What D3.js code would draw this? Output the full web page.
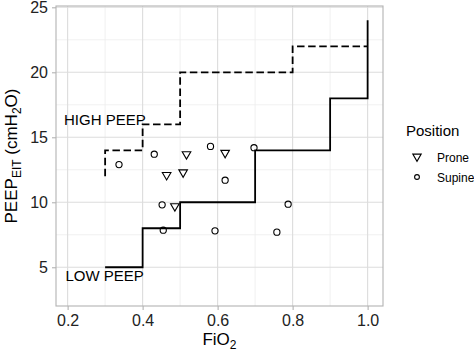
<!doctype html>
<html lang="en">
<head>
    <meta charset="utf-8">
    <title>PEEP vs FiO2</title>
    <style type="text/css">
        html, body {
            margin: 0;
            padding: 0;
            background-color: #fff;
            overflow: hidden;
        }
        svg text {
            font-family: "Liberation Sans", Arial, sans-serif;
        }
    </style>
</head>
<body>
    <svg id="chart" width="474" height="350"></svg>

    <script src="https://cdn.jsdelivr.net/npm/d3@7"></script>
    <script>
        // step tables (FiO2 -> PEEP)
        const highFio2 = [0.3, 0.3, 0.4, 0.5, 0.8, 1.0];
        const highPeep = [12, 14, 16, 20, 22, 22];
        const lowFio2 = [0.3, 0.4, 0.5, 0.7, 0.9, 1.0];
        const lowPeep = [5, 8, 10, 14, 18, 24];

        // patients
        const proneFio2 = [0.464, 0.508, 0.517, 0.620, 0.486];
        const pronePeep = [12.1, 12.3, 13.7, 13.8, 9.7];
        const supineFio2 = [0.337, 0.431, 0.581, 0.697, 0.620, 0.452, 0.455, 0.593, 0.758, 0.788];
        const supinePeep = [12.9, 13.7, 14.3, 14.2, 11.7, 9.8, 7.85, 7.8, 7.7, 9.85];

        const xTicks = [0.2, 0.4, 0.6, 0.8, 1.0];
        const xMinor = [0.3, 0.5, 0.7, 0.9];
        const yTicks = [5, 10, 15, 20, 25];
        const yMinor = [7.5, 12.5, 17.5, 22.5];

        const svg = d3.select("#chart");
        const pLeft = 56, pRight = 383, pTop = 6, pBottom = 306;

        const x = d3.scaleLinear().domain([0.169, 1.041]).range([pLeft, pRight]);
        const y = d3.scaleLinear().domain([2.02, 25.1]).range([pBottom, pTop]);

        // grid
        const grid = svg.append("g");
        grid.selectAll(".xm").data(xMinor).enter().append("line")
            .attr("x1", d => x(d)).attr("x2", d => x(d))
            .attr("y1", pTop).attr("y2", pBottom)
            .attr("stroke", "#ededed").attr("stroke-width", 0.8);
        grid.selectAll(".ym").data(yMinor).enter().append("line")
            .attr("y1", d => y(d)).attr("y2", d => y(d))
            .attr("x1", pLeft).attr("x2", pRight)
            .attr("stroke", "#ededed").attr("stroke-width", 0.8);
        grid.selectAll(".xg").data(xTicks).enter().append("line")
            .attr("x1", d => x(d)).attr("x2", d => x(d))
            .attr("y1", pTop).attr("y2", pBottom)
            .attr("stroke", "#dcdcdc").attr("stroke-width", 1.1);
        grid.selectAll(".yg").data(yTicks).enter().append("line")
            .attr("y1", d => y(d)).attr("y2", d => y(d))
            .attr("x1", pLeft).attr("x2", pRight)
            .attr("stroke", "#dcdcdc").attr("stroke-width", 1.1);

        // axes
        const xAxis = svg.append("g")
            .attr("transform", `translate(0,${pBottom})`)
            .call(d3.axisBottom(x).tickValues(xTicks).tickFormat(d3.format(".1f")).tickSize(4).tickSizeOuter(0).tickPadding(5));
        const yAxis = svg.append("g")
            .attr("transform", `translate(${pLeft},0)`)
            .call(d3.axisLeft(y).tickValues(yTicks).tickFormat(d3.format("d")).tickSize(4).tickSizeOuter(0).tickPadding(4));
        [xAxis, yAxis].forEach(a => {
            a.select(".domain").remove();
            a.selectAll(".tick line").attr("stroke", "#b3b3b3").attr("stroke-width", 1.1);
            a.selectAll(".tick text").attr("fill", "#222").style("font-size", "16px")
                .style("font-family", "'Liberation Sans', Arial, sans-serif");
        });

        // panel border
        svg.append("rect")
            .attr("x", pLeft).attr("y", pTop)
            .attr("width", pRight - pLeft).attr("height", pBottom - pTop)
            .attr("fill", "none").attr("stroke", "#b3b3b3").attr("stroke-width", 1.1);

        // step lines
        const step = d3.line()
            .x(d => x(d[0])).y(d => y(d[1]))
            .curve(d3.curveStepAfter);
        svg.append("path")
            .datum(d3.zip(highFio2, highPeep))
            .attr("d", step)
            .attr("fill", "none").attr("stroke", "#000").attr("stroke-width", 1.8)
            .attr("stroke-dasharray", "7.5,3.6");
        svg.append("path")
            .datum(d3.zip(lowFio2, lowPeep))
            .attr("d", step)
            .attr("fill", "none").attr("stroke", "#000").attr("stroke-width", 1.8);

        // down triangle around centroid
        function tri(s) {
            const h = s * Math.sqrt(3);
            return `M${-s},${-h / 3}L${s},${-h / 3}L0,${2 * h / 3}Z`;
        }

        svg.append("g").selectAll("circle")
            .data(d3.zip(supineFio2, supinePeep))
            .enter().append("circle")
            .attr("cx", d => x(d[0])).attr("cy", d => y(d[1]))
            .attr("r", 3.1)
            .attr("fill", "none").attr("stroke", "#000").attr("stroke-width", 1.1);

        svg.append("g").selectAll("path")
            .data(d3.zip(proneFio2, pronePeep))
            .enter().append("path")
            .attr("transform", d => `translate(${x(d[0])},${y(d[1])})`)
            .attr("d", tri(4.3))
            .attr("fill", "none").attr("stroke", "#000").attr("stroke-width", 1.1);

        // annotations
        svg.append("text").attr("x", 64).attr("y", 124.5)
            .style("font-size", "15px").attr("fill", "#000").text("HIGH PEEP");
        svg.append("text").attr("x", 65.5).attr("y", 280.5)
            .style("font-size", "15px").attr("fill", "#000").text("LOW PEEP");

        // axis titles
        const xt = svg.append("text")
            .attr("x", (pLeft + pRight) / 2).attr("y", 344.5)
            .attr("text-anchor", "middle").style("font-size", "17px").attr("fill", "#000");
        xt.append("tspan").text("FiO");
        xt.append("tspan").attr("dy", 4).style("font-size", "12px").text("2");

        const yt = svg.append("text")
            .attr("transform", `translate(17,${(pTop + pBottom) / 2}) rotate(-90)`)
            .attr("text-anchor", "middle").style("font-size", "17px").attr("fill", "#000");
        yt.append("tspan").text("PEEP");
        yt.append("tspan").attr("dy", 4).style("font-size", "12px").text("EIT");
        yt.append("tspan").attr("dy", -4).text(" (cmH");
        yt.append("tspan").attr("dy", 4).style("font-size", "12px").text("2");
        yt.append("tspan").attr("dy", -4).text("O)");

        // legend
        const lg = svg.append("g");
        lg.append("text").attr("x", 406).attr("y", 135.5)
            .style("font-size", "15px").attr("fill", "#000").text("Position");
        lg.append("path")
            .attr("transform", "translate(417,156.5)")
            .attr("d", tri(4.2))
            .attr("fill", "none").attr("stroke", "#000").attr("stroke-width", 1.1);
        lg.append("circle")
            .attr("cx", 417).attr("cy", 177).attr("r", 2.4)
            .attr("fill", "none").attr("stroke", "#000").attr("stroke-width", 1.1);
        lg.append("text").attr("x", 437).attr("y", 161.5)
            .style("font-size", "12px").attr("fill", "#000").text("Prone");
        lg.append("text").attr("x", 437).attr("y", 181.8)
            .style("font-size", "12px").attr("fill", "#000").text("Supine");
    </script>
</body>
</html>
